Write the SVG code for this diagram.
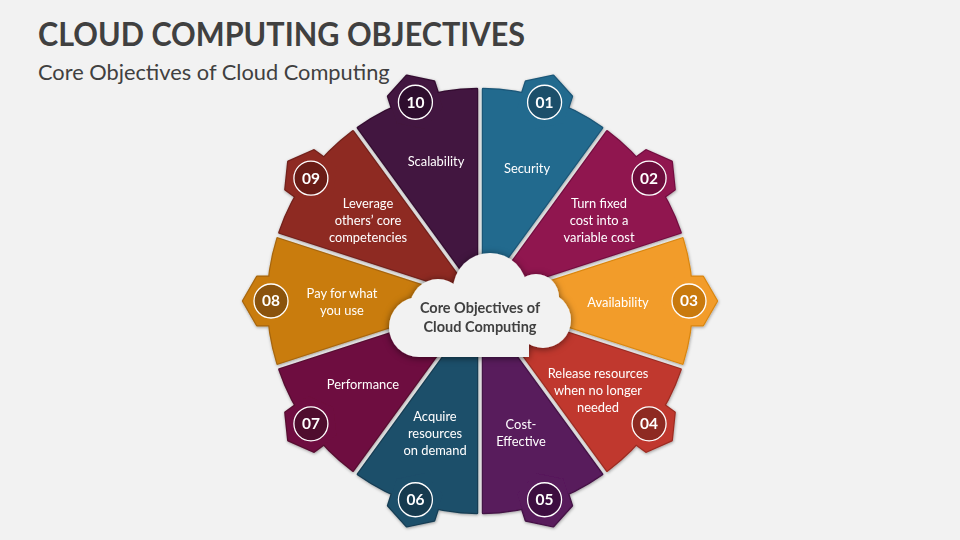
<svg xmlns="http://www.w3.org/2000/svg" xmlns:xlink="http://www.w3.org/1999/xlink" width="960" height="540" viewBox="0 0 960 540">
<defs>
<polygon id="hex" points="0,-28 24.25,-14 24.25,14 0,28 -24.25,14 -24.25,-14"/>
<filter id="sh" x="-10%" y="-10%" width="120%" height="120%"><feDropShadow dx="0.5" dy="1" stdDeviation="1.5" flood-color="#000" flood-opacity="0.35"/></filter>
<filter id="csh" x="-20%" y="-20%" width="140%" height="140%"><feDropShadow dx="0" dy="1" stdDeviation="3.5" flood-color="#000" flood-opacity="0.55"/></filter>
<style>
.o{stroke-width:2.4;stroke-linejoin:round}
.f{stroke:none}
.nc{stroke:#ffffff;stroke-width:1.3}
.num{font-family:Lato,"Open Sans","Liberation Sans",sans-serif;font-weight:700;font-size:15.5px;fill:#ffffff;stroke:none;text-anchor:middle}
.lbl{font-family:Lato,"Open Sans","Liberation Sans",sans-serif;font-size:12.9px;fill:#ffffff;text-anchor:middle;stroke:none}
.ttl{font-family:Lato,"Open Sans","Liberation Sans",sans-serif;font-weight:700;font-size:33px;fill:#404040}
.sub{font-family:Lato,"Open Sans","Liberation Sans",sans-serif;font-size:21.8px;fill:#404040}
.ctr{font-family:Lato,"Open Sans","Liberation Sans",sans-serif;font-weight:700;font-size:14.5px;fill:#404040;text-anchor:middle}
</style>
</defs>
<rect width="960" height="540" fill="#f2f2f2"/>
<text class="ttl" x="38" y="46" textLength="487" lengthAdjust="spacingAndGlyphs">CLOUD COMPUTING OBJECTIVES</text>
<text class="sub" x="38" y="80">Core Objectives of Cloud Computing</text>

<g id="wheel" filter="url(#sh)">
<g id="seg01" fill="#236a8e" stroke="#1b5677">
<path class="o" d="M483,291.77 L483,89 A212,212 0 0 1 602.18,127.73 Z"/><use class="o" href="#hex" transform="translate(544.58,102.23) rotate(18)"/>
<path class="f" d="M483,291.77 L483,89 A212,212 0 0 1 602.18,127.73 Z"/><use class="f" href="#hex" transform="translate(544.58,102.23) rotate(18)"/>
<circle class="nc" cx="544.58" cy="102.23" r="17" fill="#1c4f6b"/>
<text class="num" x="544.58" y="107.6">01</text>
<text class="lbl" x="527" y="172.5">Security</text>
</g>
<g id="seg02" fill="#901550" stroke="#731040">
<path class="o" d="M487.86,295.29 L607.04,131.25 A212,212 0 0 1 680.69,232.64 Z"/><use class="o" href="#hex" transform="translate(649.09,178.15) rotate(54)"/>
<path class="f" d="M487.86,295.29 L607.04,131.25 A212,212 0 0 1 680.69,232.64 Z"/><use class="f" href="#hex" transform="translate(649.09,178.15) rotate(54)"/>
<circle class="nc" cx="649.09" cy="178.15" r="17" fill="#6e0f3c"/>
<text class="num" x="649.09" y="183.5">02</text>
<text class="lbl" x="599" y="207.5">Turn fixed</text>
<text class="lbl" x="599" y="224.5">cost into a</text>
<text class="lbl" x="599" y="241.5">variable cost</text>
</g>
<g id="seg03" fill="#f29c2b" stroke="#d9860f">
<path class="o" d="M489.71,301 L682.55,238.34 A212,212 0 0 1 682.55,363.66 Z"/><use class="o" href="#hex" transform="translate(689,301) rotate(90)"/>
<path class="f" d="M489.71,301 L682.55,238.34 A212,212 0 0 1 682.55,363.66 Z"/><use class="f" href="#hex" transform="translate(689,301) rotate(90)"/>
<circle class="nc" cx="689" cy="301" r="17" fill="#c97a10"/>
<text class="num" x="689" y="306.4">03</text>
<text class="lbl" x="618" y="306.5">Availability</text>
</g>
<g id="seg04" fill="#c0392f" stroke="#9c2c22">
<path class="o" d="M487.86,306.71 L680.69,369.36 A212,212 0 0 1 607.04,470.75 Z"/><use class="o" href="#hex" transform="translate(649.09,423.85) rotate(126)"/>
<path class="f" d="M487.86,306.71 L680.69,369.36 A212,212 0 0 1 607.04,470.75 Z"/><use class="f" href="#hex" transform="translate(649.09,423.85) rotate(126)"/>
<circle class="nc" cx="649.09" cy="423.85" r="17" fill="#8e2a21"/>
<text class="num" x="649.09" y="429.2">04</text>
<text class="lbl" x="598" y="377.5">Release resources</text>
<text class="lbl" x="598" y="394.5">when no longer</text>
<text class="lbl" x="598" y="411.5">needed</text>
</g>
<g id="seg05" fill="#581a5b" stroke="#431244">
<path class="o" d="M483,310.23 L602.18,474.27 A212,212 0 0 1 483,513 Z"/><use class="o" href="#hex" transform="translate(544.58,499.77) rotate(162)"/>
<path class="f" d="M483,310.23 L602.18,474.27 A212,212 0 0 1 483,513 Z"/><use class="f" href="#hex" transform="translate(544.58,499.77) rotate(162)"/>
<circle class="nc" cx="544.58" cy="499.77" r="17" fill="#3e0f40"/>
<text class="num" x="544.58" y="505.1">05</text>
<text class="lbl" x="521" y="428.5">Cost-</text>
<text class="lbl" x="521" y="445.5">Effective</text>
</g>
<g id="seg06" fill="#1f4f6a" stroke="#173d53">
<path class="o" d="M477,310.23 L477,513 A212,212 0 0 1 357.82,474.27 Z"/><use class="o" href="#hex" transform="translate(415.42,499.77) rotate(198)"/>
<path class="f" d="M477,310.23 L477,513 A212,212 0 0 1 357.82,474.27 Z"/><use class="f" href="#hex" transform="translate(415.42,499.77) rotate(198)"/>
<circle class="nc" cx="415.42" cy="499.77" r="17" fill="#153a4f"/>
<text class="num" x="415.42" y="505.1">06</text>
<text class="lbl" x="435" y="420.5">Acquire</text>
<text class="lbl" x="435" y="437.5">resources</text>
<text class="lbl" x="435" y="454.5">on demand</text>
</g>
<g id="seg07" fill="#6e0f3f" stroke="#560b30">
<path class="o" d="M472.14,306.71 L352.96,470.75 A212,212 0 0 1 279.31,369.36 Z"/><use class="o" href="#hex" transform="translate(310.91,423.85) rotate(234)"/>
<path class="f" d="M472.14,306.71 L352.96,470.75 A212,212 0 0 1 279.31,369.36 Z"/><use class="f" href="#hex" transform="translate(310.91,423.85) rotate(234)"/>
<circle class="nc" cx="310.91" cy="423.85" r="17" fill="#4f0a2d"/>
<text class="num" x="310.91" y="429.2">07</text>
<text class="lbl" x="363" y="388.5">Performance</text>
</g>
<g id="seg08" fill="#c97c0d" stroke="#a6650a">
<path class="o" d="M470.29,301 L277.45,363.66 A212,212 0 0 1 277.45,238.34 Z"/><use class="o" href="#hex" transform="translate(271,301) rotate(270)"/>
<path class="f" d="M470.29,301 L277.45,363.66 A212,212 0 0 1 277.45,238.34 Z"/><use class="f" href="#hex" transform="translate(271,301) rotate(270)"/>
<circle class="nc" cx="271" cy="301" r="17" fill="#8a5307"/>
<text class="num" x="271" y="306.4">08</text>
<text class="lbl" x="342" y="297.5">Pay for what</text>
<text class="lbl" x="342" y="314.5">you use</text>
</g>
<g id="seg09" fill="#8e2b24" stroke="#72211b">
<path class="o" d="M472.14,295.29 L279.31,232.64 A212,212 0 0 1 352.96,131.25 Z"/><use class="o" href="#hex" transform="translate(310.91,178.15) rotate(306)"/>
<path class="f" d="M472.14,295.29 L279.31,232.64 A212,212 0 0 1 352.96,131.25 Z"/><use class="f" href="#hex" transform="translate(310.91,178.15) rotate(306)"/>
<circle class="nc" cx="310.91" cy="178.15" r="17" fill="#6a1d18"/>
<text class="num" x="310.91" y="183.5">09</text>
<text class="lbl" x="368" y="207.5">Leverage</text>
<text class="lbl" x="368" y="224.5">others’ core</text>
<text class="lbl" x="368" y="241.5">competencies</text>
</g>
<g id="seg10" fill="#43143f" stroke="#330e30">
<path class="o" d="M477,291.77 L357.82,127.73 A212,212 0 0 1 477,89 Z"/><use class="o" href="#hex" transform="translate(415.42,102.23) rotate(342)"/>
<path class="f" d="M477,291.77 L357.82,127.73 A212,212 0 0 1 477,89 Z"/><use class="f" href="#hex" transform="translate(415.42,102.23) rotate(342)"/>
<circle class="nc" cx="415.42" cy="102.23" r="17" fill="#2f0d2d"/>
<text class="num" x="415.42" y="107.6">10</text>
<text class="lbl" x="436" y="165.5">Scalability</text>
</g>
</g>

<g id="center">
<g filter="url(#csh)" fill="#f2f2f2">
<circle cx="490" cy="290" r="37"/>
<circle cx="438" cy="307" r="28"/>
<circle cx="419" cy="327" r="30"/>
<circle cx="536" cy="297" r="23"/>
<circle cx="543" cy="320" r="28"/>
<circle cx="500" cy="330" r="27"/>
<rect x="419" y="315" width="110" height="42"/>
</g>
<text class="ctr" x="480" y="313">Core Objectives of</text>
<text class="ctr" x="480" y="332">Cloud Computing</text>
</g>
</svg>
